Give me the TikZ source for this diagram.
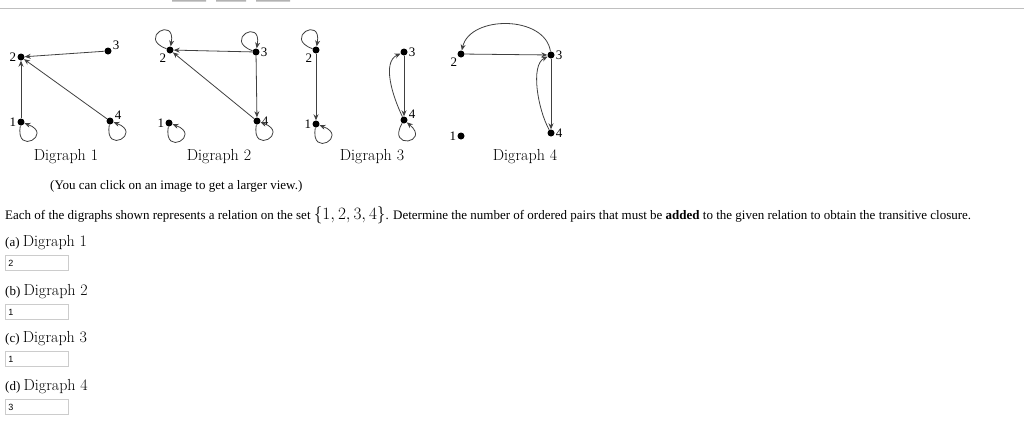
\documentclass[tikz,border=0pt]{standalone}
\usepackage{fontspec}
\newfontfamily\tms{Liberation Serif}
\newfontfamily\hel{Liberation Sans}
\usetikzlibrary{arrows.meta}
\begin{document}
\begin{tikzpicture}[x=1pt,y=-1pt,
  v/.style={circle,fill=black,inner sep=0pt,minimum size=7pt},
  lab/.style={font=\tms\fontsize{13}{13}\selectfont,inner sep=1pt},
  e/.style={-{Stealth[length=6pt,width=5pt]},line width=0.8pt,black!75},
  lp/.style={e,looseness=17},
  dcap/.style={font=\fontsize{16}{16}\selectfont},
  body/.style={font=\tms\fontsize{13}{14}\selectfont,anchor=west,inner sep=0pt},
  ans/.style={draw=gray!40,line width=0.8pt,minimum width=63pt,minimum height=15pt,anchor=north west,inner sep=2pt,font=\hel\fontsize{9}{9}\selectfont,text width=57pt,align=left}]
\useasboundingbox (0,0) rectangle (1024,429);
\draw[gray!50,line width=0.8pt] (0,8) -- (1024,8);
\fill[gray!60] (172,0) rectangle (206,1.5) (216,0) rectangle (246,1.5) (256,0) rectangle (290,1.5);
% Digraph 1
\node[v] (a2) at (21,57) {}; \node[lab,left] at (a2.west) {2};
\node[v] (a3) at (108,51) {}; \node[lab,above right] at (a3.east) {3};
\node[v] (a1) at (21,122) {}; \node[lab,left] at (a1.west) {1};
\node[v] (a4) at (110,121) {}; \node[lab,above right] at (a4.east) {4};
\draw[e] (a3) -- (a2); \draw[e] (a1) -- (a2); \draw[e] (a4) -- (a2);
\draw[lp] (a1) to[out=-100,in=-20] (a1);
\draw[lp] (a4) to[out=-100,in=-20] (a4);
\node[dcap] (c1) at (66,157) {Digraph 1};
% Digraph 2
\node[v] (b2) at (170,50) {}; \node[lab,below left] at (b2.south west) {2};
\node[v] (b3) at (256,52) {}; \node[lab,right] at (b3.east) {3};
\node[v] (b1) at (169,123) {}; \node[lab,left] at (b1.west) {1};
\node[v] (b4) at (257,121) {}; \node[lab,right] at (b4.east) {4};
\draw[e] (b3) -- (b2); \draw[e] (b3) -- (b4); \draw[e] (b4) -- (b2);
\draw[lp] (b2) to[out=160,in=80] (b2);
\draw[lp] (b3) to[out=160,in=80] (b3);
\draw[lp] (b1) to[out=-100,in=-20] (b1);
\draw[lp] (b4) to[out=-100,in=-20] (b4);
\node[dcap] (c2) at (219,157) {Digraph 2};
% Digraph 3
\node[v] (d2) at (316,50) {}; \node[lab,below left] at (d2.south west) {2};
\node[v] (d1) at (316,124) {}; \node[lab,left] at (d1.west) {1};
\node[v] (d3) at (404,52) {}; \node[lab,right] at (d3.east) {3};
\node[v] (d4) at (404,120) {}; \node[lab,above right] at (d4.east) {4};
\draw[e] (d2) -- (d1); \draw[e] (d3) -- (d4);
\draw[e] (d4) .. controls (392,95) and (382,62) .. (d3);
\draw[lp] (d2) to[out=160,in=80] (d2);
\draw[lp] (d1) to[out=-100,in=-20] (d1);
\draw[lp] (d4) to[out=-120,in=-40] (d4);
\node[dcap] (c3) at (372,157) {Digraph 3};
% Digraph 4
\node[v] (f2) at (461,54) {}; \node[lab,below left] at (f2.south west) {2};
\node[v] (f3) at (551,55) {}; \node[lab,right] at (f3.east) {3};
\node[v] (f1) at (461,136) {}; \node[lab,left] at (f1.west) {1};
\node[v] (f4) at (551,133) {}; \node[lab,right] at (f4.east) {4};
\draw[e] (f2) -- (f3); \draw[e] (f3) -- (f4);
\draw[e] (f3) .. controls (545,15) and (470,15) .. (f2);
\draw[e] (f4) .. controls (538,110) and (530,65) .. (f3);
\node[dcap] (c4) at (525,157) {Digraph 4};
% text
\node[body] (t0) at (50,186) {(You can click on an image to get a larger view.)};
\node[body] (t1) at (5,215) {Each of the digraphs shown represents a relation on the set {\rmfamily\fontsize{16}{16}\selectfont$\{1,2,3,4\}$}. Determine the number of ordered pairs that must be \textbf{added} to the given relation to obtain the transitive closure.};
\node[body] (qa) at (5,243) {(a) {\rmfamily\fontsize{16}{16}\selectfont Digraph 1}};
\node[ans] (ba) at (5,255) {2};
\node[body] (qb) at (5,292) {(b) {\rmfamily\fontsize{16}{16}\selectfont Digraph 2}};
\node[ans] (bb) at (5,304) {1};
\node[body] (qc) at (5,339) {(c) {\rmfamily\fontsize{16}{16}\selectfont Digraph 3}};
\node[ans] (bc) at (5,351) {1};
\node[body] (qd) at (5,387) {(d) {\rmfamily\fontsize{16}{16}\selectfont Digraph 4}};
\node[ans] (bd) at (5,399) {3};
\end{tikzpicture}
\end{document}
